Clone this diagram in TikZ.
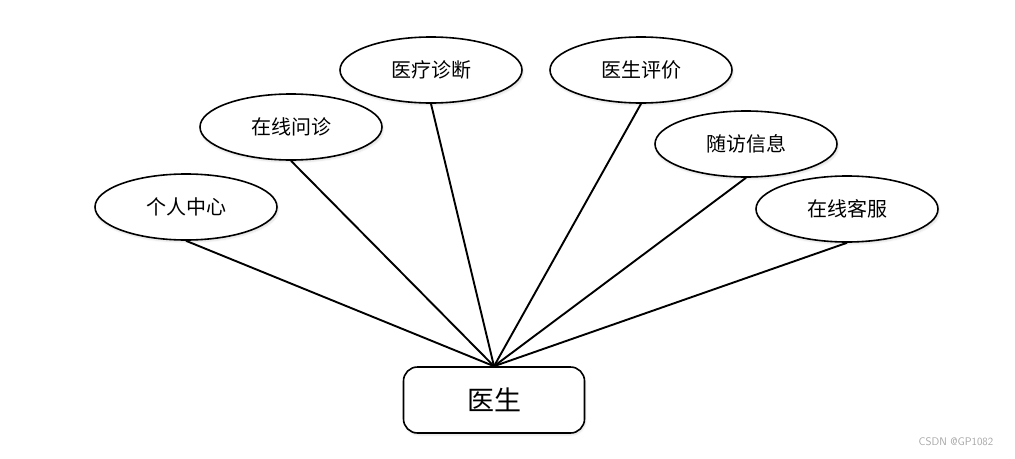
\documentclass[tikz,border=0pt]{standalone}
\usepackage{fontspec}
\newfontfamily\cjk{Noto Sans CJK SC}
\usepackage{tikz}
\usetikzlibrary{positioning, shapes.geometric, shadows.blur}

\tikzset{
  func/.style={ellipse, draw=black, line width=1.6pt, fill=white,
    minimum width=182pt, minimum height=66pt, inner sep=0pt,
    font=\cjk\fontsize{20}{20}\selectfont,
    blur shadow={shadow xshift=1pt, shadow yshift=-2pt, shadow opacity=12,
      shadow blur steps=6, shadow blur extra rounding=2pt}},
  role/.style={rectangle, rounded corners=14pt, draw=black, line width=1.6pt,
    fill=white, minimum width=181pt, minimum height=66pt, inner sep=0pt,
    font=\cjk\fontsize{27}{27}\selectfont,
    blur shadow={shadow xshift=1pt, shadow yshift=-2pt, shadow opacity=12,
      shadow blur steps=6}},
  link/.style={line width=1.9pt, black}
}

\begin{document}
\begin{tikzpicture}[x=1pt, y=-1pt]
  \useasboundingbox (0,0) rectangle (1015,458);
  % Central role
  \node[role] (doctor) at (494, 400) {医生};
  % Function ellipses
  \node[func] (center)  at (186, 207) {个人中心};
  \node[func] (consult) at (291, 127) {在线问诊};
  \node[func] (diag)    at (431, 70)  {医疗诊断};
  \node[func] (review)  at (641, 70)  {医生评价};
  \node[func] (follow)  at (746, 144) {随访信息};
  \node[func] (service) at (847, 209) {在线客服};
  % Links to the role
  \foreach \f in {center, consult, diag, review, follow, service}
    \draw[link] (\f.south) -- (doctor.north);
  % Watermark
  \node[font=\sffamily\fontsize{11}{11}\selectfont, gray!70] (mark) at (956, 442) {CSDN @GP1082};
\end{tikzpicture}
\end{document}
